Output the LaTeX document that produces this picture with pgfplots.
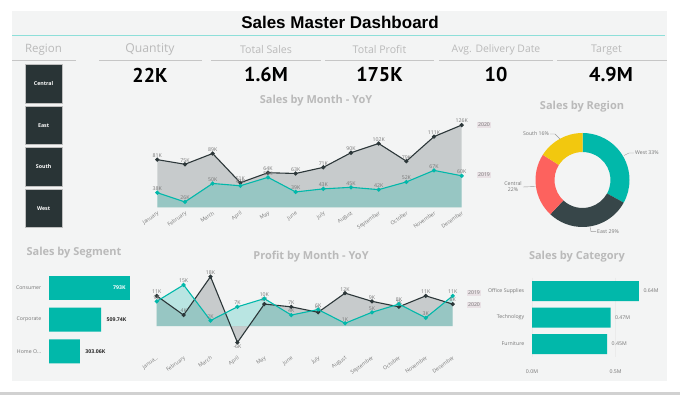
\documentclass[border=0pt]{standalone}
\usepackage{pgfplots}
\usepackage{pgfplotstable}
\pgfplotsset{compat=1.18}
\usepackage{fontspec}
\setmainfont{Open Sans}
\newfontfamily\titlefont{Liberation Sans}
\newfontfamily\kpifont{PT Sans}
\definecolor{pbteal}{HTML}{01B8AA}
\definecolor{pbdark}{HTML}{374649}
\definecolor{pbline}{HTML}{2C3739}
\definecolor{pbred}{HTML}{FD625E}
\definecolor{pbyellow}{HTML}{F2C80F}
\definecolor{panel}{HTML}{F3F4F4}
\definecolor{ttlgray}{HTML}{BABABA}
\definecolor{lblgray}{HTML}{767676}
\definecolor{btn}{HTML}{293436}
\definecolor{tagbg}{HTML}{E9E1E5}
\definecolor{rulegray}{HTML}{C6C6C6}

\pgfplotsset{/pgf/number format/assume math mode=true}

\pgfplotstableread{
m s20 s19
0 81 38
1 75 26
2 89 50
3 51 47
4 64 58
5 63 39
6 71 43
7 90 45
8 102 42
9 79 52
10 111 67
11 126 60
}\salesdata

\pgfplotstableread{
m p20 p19
0 11 9
1 4 15
2 18 2
3 -6 7
4 8 10
5 7 4
6 5 6
7 12 1
8 9 5
9 7 8
10 11 3
11 8 11
}\profitdata

\pgfplotstableread{
y v lab
0 793 793K
}\segA
\pgfplotstableread{
y v lab
1 509.74 509.74K
2 303.06 303.06K
}\segB

\pgfplotstableread{
y v lab
0 0.64 0.64M
1 0.47 0.47M
2 0.45 0.45M
}\catdata

\def\vWest{33}\def\vEast{29}\def\vCentral{22}\def\vSouth{16}

\newcommand{\sm}{\fontsize{5.2}{6}\selectfont}
\newcommand{\secttl}[1]{{\bfseries\fontsize{11}{13}\selectfont\color{ttlgray}#1}}

\begin{document}
\begin{tikzpicture}[x=1pt,y=-1pt]
% background
\fill[white] (0,0) rectangle (680,395);
\fill[panel] (12,11) rectangle (667,381);
\fill[rulegray!80] (0,392) rectangle (680,395);
\draw[pbteal!45, line width=0.8pt] (12,35) -- (665,35);
\node[font=\titlefont\bfseries\fontsize{17}{20}\selectfont] at (340,22) {Sales Master Dashboard};

% KPI header
\foreach \x/\a in {12/76, 99/202, 211/321, 325/434, 439/553, 557/667}{
  \draw[rulegray, line width=0.9pt] (\x,60) -- (\a,60);
}
\node[font=\fontsize{11.5}{13}\selectfont, text=ttlgray] at (43.5,50) {Region};
\node[font=\fontsize{12.2}{14}\selectfont, text=ttlgray] at (150,49.5) {Quantity};
\node[font=\fontsize{10.6}{12}\selectfont, text=ttlgray] at (266,50) {Total Sales};
\node[font=\fontsize{10.6}{12}\selectfont, text=ttlgray] at (379.5,50) {Total Profit};
\node[font=\fontsize{10.4}{12}\selectfont, text=ttlgray] at (496,50) {Avg. Delivery Date};
\node[font=\fontsize{10.6}{12}\selectfont, text=ttlgray] at (606.5,50) {Target};
\foreach \x/\t in {150/22K, 266/1.6M, 379.5/175K, 496/10, 611/4.9M}{
  \node[font=\kpifont\bfseries\fontsize{20}{22}\selectfont] at (\x,75) {\t};
}

% region buttons
\foreach \ya/\yb/\t in {64.5/103.3/Central, 106/144.3/East, 147.7/186/South, 189.3/227.7/West}{
  \filldraw[fill=btn, draw=black!25, line width=0.4pt] (25,\ya) rectangle (62.3,\yb);
  \node[text=white, font=\bfseries\fontsize{5.3}{6}\selectfont] at (43.6,{(\ya+\yb)/2}) {\t};
}

% section titles
\node at (316,101) {\secttl{Sales by Month - YoY}};
\node at (311,257) {\secttl{Profit by Month - YoY}};
\node at (74,252.5) {\secttl{Sales by Segment}};
\node at (582,107) {\secttl{Sales by Region}};
\node at (577,257) {\secttl{Sales by Category}};

% ---------- Sales by Month ----------
\begin{axis}[at={(157.3pt,-207.3pt)}, anchor=south west, scale only axis,
  width=304.4pt, height=85.3pt, xmin=0, xmax=11, ymin=19, ymax=130,
  enlargelimits=false, axis line style={draw=none}, tick style={draw=none},
  ytick=\empty, xtick={0,1,2,3,4,5,6,7,8,9,10,11},
  xticklabels={January,February,March,April,May,June,July,August,September,October,November,December},
  xticklabel style={rotate=35, anchor=north east, font=\sm, text=lblgray, inner sep=1pt},
  xticklabel shift=2pt,
  nodes near coords={\pgfmathprintnumber{\pgfplotspointmeta}K}, point meta=y,
  every node near coord/.append style={font=\sm, text=lblgray, inner sep=1.5pt}]
\addplot[draw=none, fill=pbdark, fill opacity=0.23, nodes near coords={}] table[x=m,y=s20]{\salesdata} \closedcycle;
\addplot[draw=none, fill=pbteal, fill opacity=0.24, nodes near coords={}] table[x=m,y=s19]{\salesdata} \closedcycle;
\addplot[pbline, line width=1.1pt, mark=*, mark size=1.5pt, mark options={fill=pbline}] table[x=m,y=s20]{\salesdata};
\addplot[pbteal, line width=1.1pt, mark=*, mark size=1.5pt, mark options={fill=pbteal}] table[x=m,y=s19]{\salesdata};
\end{axis}
\node[fill=tagbg, text=lblgray, font=\sm, inner sep=1.5pt] at (484,125) {2020};
\node[fill=tagbg, text=lblgray, font=\sm, inner sep=1.5pt] at (484,175) {2019};

% ---------- Profit by Month ----------
\begin{axis}[at={(156.7pt,-345.2pt)}, anchor=south west, scale only axis,
  width=296pt, height=79.5pt, xmin=0, xmax=11, ymin=-7, ymax=22,
  enlargelimits=false, axis line style={draw=none}, tick style={draw=none},
  ytick=\empty, xtick={0,1,2,3,4,5,6,7,8,9,10,11},
  xticklabels={{Janua\ldots},February,March,April,May,June,July,August,September,October,November,December},
  xticklabel style={rotate=35, anchor=north east, font=\sm, text=lblgray, inner sep=1pt},
  xticklabel shift=9pt,
  nodes near coords={\pgfmathprintnumber{\pgfplotspointmeta}K}, point meta=y,
  every node near coord/.append style={font=\sm, text=lblgray, inner sep=1.5pt}]
\addplot[draw=none, fill=pbdark, fill opacity=0.23, nodes near coords={}] table[x=m,y=p20]{\profitdata} \closedcycle;
\addplot[draw=none, fill=pbteal, fill opacity=0.24, nodes near coords={}] table[x=m,y=p19]{\profitdata} \closedcycle;
\addplot[pbline, line width=1.1pt, mark=*, mark size=1.5pt, mark options={fill=pbline}] table[x=m,y=p20]{\profitdata};
\addplot[pbteal, line width=1.1pt, mark=*, mark size=1.5pt, mark options={fill=pbteal}] table[x=m,y=p19]{\profitdata};
\end{axis}
\node[fill=tagbg, text=lblgray, font=\sm, inner sep=1.5pt] at (474,293) {2019};
\node[fill=tagbg, text=lblgray, font=\sm, inner sep=1.5pt] at (474,305) {2020};

% ---------- Sales by Segment ----------
\begin{axis}[at={(49pt,-272.2pt)}, anchor=north west, scale only axis,
  width=81pt, height=95pt, xbar, bar width=24pt,
  xmin=0, xmax=793, ymin=-0.5, ymax=2.5, y dir=reverse, enlargelimits=false,
  axis line style={draw=none}, tick style={draw=none}, xtick=\empty,
  ytick={0,1,2}, yticklabels={Consumer,Corporate,{Home O\ldots}},
  yticklabel style={font=\sm, text=lblgray},
  point meta=explicit symbolic, nodes near coords]
\addplot[fill=pbteal, draw=none, bar shift=0pt,
  every node near coord/.append style={anchor=east, text=white, font=\bfseries\sm, xshift=-1pt}]
  table[x=v,y=y,meta=lab]{\segA};
\addplot[fill=pbteal, draw=none, bar shift=0pt,
  every node near coord/.append style={anchor=west, text=black!85, font=\bfseries\sm, xshift=2pt}]
  table[x=v,y=y,meta=lab]{\segB};
\end{axis}

% ---------- Sales by Category ----------
\begin{axis}[at={(532pt,-277.75pt)}, anchor=north west, scale only axis,
  width=117pt, height=79.5pt, xbar, bar width=20pt,
  xmin=0, xmax=0.7, ymin=-0.5, ymax=2.5, y dir=reverse, enlargelimits=false,
  axis line style={draw=none}, tick style={draw=none},
  xtick={0,0.5}, xticklabels={0.0M,0.5M}, xticklabel style={font=\sm, text=lblgray},
  xticklabel shift=9pt,
  xmajorgrids, grid style={black!8, line width=0.4pt},
  ytick={0,1,2}, yticklabels={Office Supplies,Technology,Furniture},
  yticklabel style={font=\sm, text=lblgray},
  point meta=explicit symbolic, nodes near coords,
  every node near coord/.append style={anchor=west, text=lblgray, font=\sm, xshift=1pt}]
\addplot[fill=pbteal, draw=none, bar shift=0pt] table[x=v,y=y,meta=lab]{\catdata};
\end{axis}

% ---------- Sales by Region (donut) ----------
\pgfmathsetmacro\aA{90}
\pgfmathsetmacro\aB{\aA-3.6*\vWest}
\pgfmathsetmacro\aC{\aB-3.6*\vEast}
\pgfmathsetmacro\aD{\aC-3.6*\vCentral}
\pgfmathsetmacro\aE{\aD-3.6*\vSouth}
\begin{axis}[at={(582.5pt,-180pt)}, anchor=center, scale only axis, width=94pt, height=94pt,
  xmin=-1, xmax=1, ymin=-1, ymax=1, hide axis]
\fill[pbteal] (axis cs:0,0) ++(\aA:47pt) arc[start angle=\aA, end angle=\aB, radius=47pt] -- ++(\aB+180:19pt) arc[start angle=\aB, end angle=\aA, radius=28pt] -- cycle;
\fill[pbdark] (axis cs:0,0) ++(\aB:47pt) arc[start angle=\aB, end angle=\aC, radius=47pt] -- ++(\aC+180:19pt) arc[start angle=\aC, end angle=\aB, radius=28pt] -- cycle;
\fill[pbred] (axis cs:0,0) ++(\aC:47pt) arc[start angle=\aC, end angle=\aD, radius=47pt] -- ++(\aD+180:19pt) arc[start angle=\aD, end angle=\aC, radius=28pt] -- cycle;
\fill[pbyellow] (axis cs:0,0) ++(\aD:47pt) arc[start angle=\aD, end angle=\aE, radius=47pt] -- ++(\aE+180:19pt) arc[start angle=\aE, end angle=\aD, radius=28pt] -- cycle;
\end{axis}
\draw[black!40, line width=0.4pt] (624,155.5) -- (629,153) -- (634,153);
\node[anchor=west, font=\sm, text=lblgray, inner sep=1pt] at (634,153) {West 33\%};
\draw[black!40, line width=0.4pt] (590,226.5) -- (591,231.7) -- (596,231.7);
\node[anchor=west, font=\sm, text=lblgray, inner sep=1pt] at (596,231.7) {East 29\%};
\draw[black!40, line width=0.4pt] (535.5,186.5) -- (523,187);
\node[anchor=east, font=\sm, text=lblgray, inner sep=1pt, align=center] at (523,186.5) {Central\\22\%};
\draw[black!40, line width=0.4pt] (560,139) -- (555,134) -- (550,134);
\node[anchor=east, font=\sm, text=lblgray, inner sep=1pt] at (550,134) {South 16\%};
\end{tikzpicture}
\end{document}
